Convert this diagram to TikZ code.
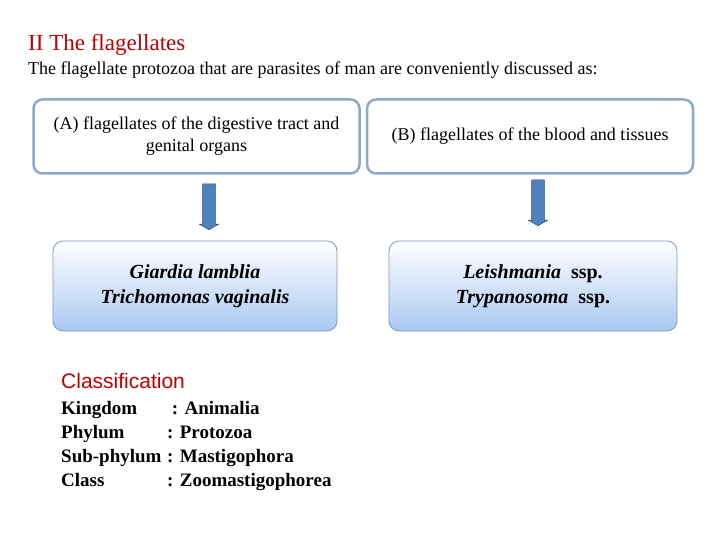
\documentclass[tikz,border=0pt]{standalone}
\usepackage{fontspec}
\setmainfont{Liberation Serif}
\newfontfamily\sansf{Liberation Sans}
\usetikzlibrary{shapes.arrows}
\definecolor{tred}{HTML}{C00000}
\definecolor{bord}{HTML}{8EA9C8}
\definecolor{lblue}{HTML}{A9C9F2}
\definecolor{arr}{HTML}{4F81BD}
\begin{document}
\begin{tikzpicture}[x=1pt,y=-1pt,
  topbox/.style={draw=bord,line width=2.5pt,rounded corners=9pt,fill=white,minimum width=326pt,minimum height=74pt,align=center,font=\fontsize{18}{22}\selectfont},
  botbox/.style={draw=bord!90!black,line width=0.8pt,rounded corners=10pt,top color=white,bottom color=lblue,minimum height=90pt,align=center,font=\fontsize{20}{25}\selectfont\bfseries\itshape},
  darr/.style={single arrow,draw=arr!60!black,fill=arr,shape border rotate=270,minimum height=46pt,minimum width=20pt,single arrow head extend=3pt,single arrow head indent=0pt,inner sep=5pt,single arrow tip angle=120}]
\useasboundingbox (0,0) rectangle (720,540);
\node[anchor=west,text=tred,font=\fontsize{23}{27}\selectfont,inner sep=0pt] (t) at (28,45) {II The flagellates};
\node[anchor=west,font=\fontsize{18}{20}\selectfont,inner sep=0pt] (s) at (28,70) {The flagellate protozoa that are parasites of man are conveniently discussed as:};
\node[topbox] (a) at (196.5,136.5) {(A) flagellates of the digestive tract and\\genital organs};
\node[topbox] (b) at (530,136.5) {(B) flagellates of the blood and tissues};
\node[darr] (aa) at (209,205) {};
\node[darr] (ba) at (538,201) {};
\node[botbox,minimum width=284pt] (c) at (195,286) {Giardia lamblia\\Trichomonas vaginalis};
\node[botbox,minimum width=288pt] (d) at (533,286) {Leishmania \textnormal{\bfseries\ ssp.}\\Trypanosoma \textnormal{\bfseries\ ssp.}};
\node[anchor=west,text=tred,font=\sansf\fontsize{21}{24}\selectfont,inner sep=0pt] (cl) at (61,381) {Classification};
\node[anchor=north west,align=left,font=\fontsize{19}{24}\selectfont\bfseries,inner sep=0pt] (k) at (61,397) {%
\begin{tabular}{@{}p{106pt}@{}l@{}}
Kingdom & \hspace{0.25em}: Animalia\\
Phylum & : Protozoa\\
Sub-phylum\hspace*{-20pt} & : Mastigophora\\
Class & : Zoomastigophorea
\end{tabular}};
\end{tikzpicture}
\end{document}
